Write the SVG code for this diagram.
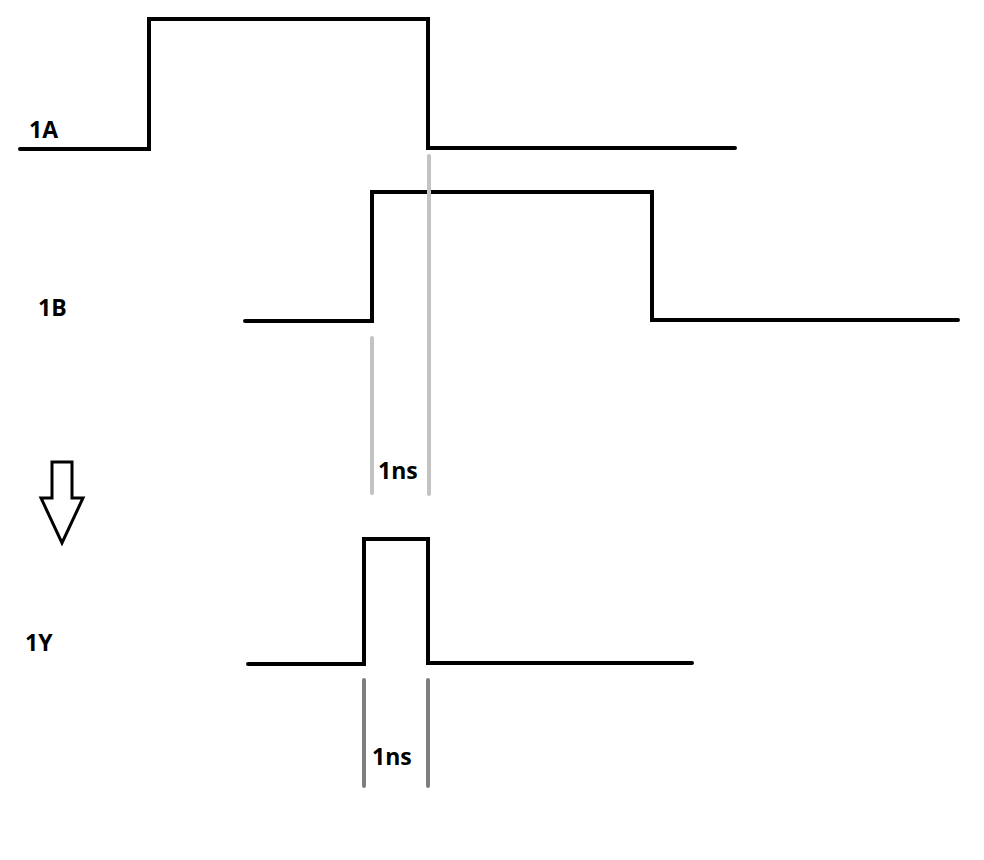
<svg xmlns="http://www.w3.org/2000/svg" width="984" height="860" viewBox="0 0 984 860">
<style>
.w{fill:none;stroke:#000;stroke-width:4;stroke-linecap:round}
.t{font-family:"Open Sans","Liberation Sans",sans-serif;font-weight:bold;font-size:23px;fill:#000}
</style>
<rect width="984" height="860" fill="#fff"/>
<path class="w" d="M20,149H149V19H428V148H735"/>
<path class="w" d="M245,321H372V192H652V320H958"/>
<path class="w" d="M248,664H364V539H428V663H692"/>
<g stroke="#c3c3c3" stroke-width="4" stroke-linecap="round">
<line x1="372" y1="338" x2="372" y2="493"/>
<line x1="429" y1="156" x2="429" y2="494"/>
</g>
<g stroke="#7f7f7f" stroke-width="4" stroke-linecap="round">
<line x1="364" y1="680" x2="364" y2="786"/>
<line x1="428" y1="680" x2="428" y2="786"/>
</g>
<path d="M52,462H72V498H83L62,543L41,498H52Z" fill="#fff" stroke="#000" stroke-width="3"/>
<text class="t" x="29" y="138">1A</text>
<text class="t" x="38" y="316">1B</text>
<text class="t" x="25" y="651">1Y</text>
<text class="t" x="378" y="479">1ns</text>
<text class="t" x="372" y="765">1ns</text>
</svg>
